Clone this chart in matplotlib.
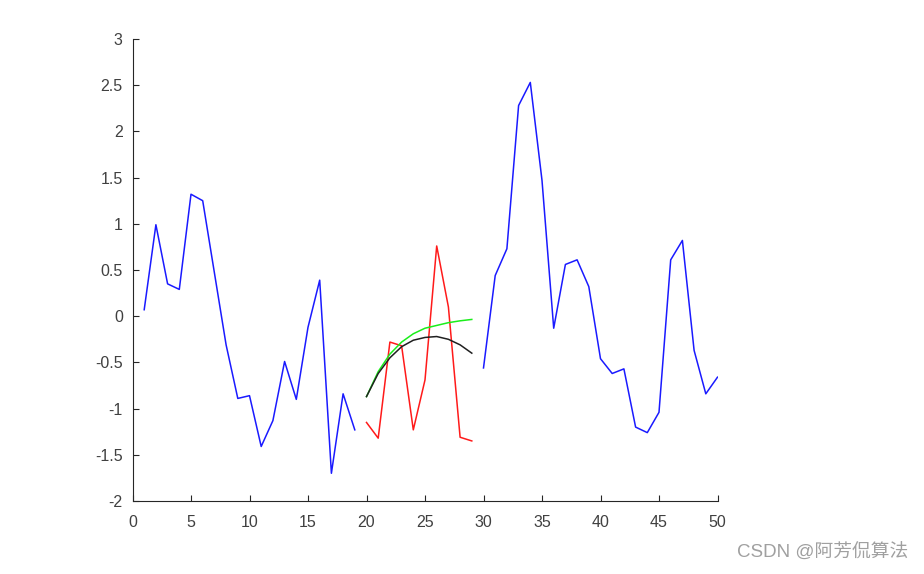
import numpy as np
import matplotlib
matplotlib.use("Agg")
import matplotlib.pyplot as plt

# ==========================================================
# Data
# ==========================================================

x_blue1 = list(range(1, 20))
y_blue1 = [0.07, 0.99, 0.35, 0.29, 1.32, 1.25, 0.47, -0.31, -0.89, -0.86,
           -1.41, -1.13, -0.49, -0.90, -0.12, 0.39, -1.70, -0.84, -1.23]

x_red = list(range(20, 30))
y_red = [-1.15, -1.32, -0.28, -0.32, -1.23, -0.69, 0.76, 0.10, -1.31, -1.35]

x_fit = list(range(20, 30))
y_green = [-0.87, -0.60, -0.41, -0.28, -0.19, -0.13, -0.10, -0.07, -0.05, -0.035]
y_black = [-0.87, -0.62, -0.45, -0.33, -0.26, -0.23, -0.22, -0.25, -0.31, -0.40]

x_blue2 = list(range(30, 51))
y_blue2 = [-0.56, 0.44, 0.73, 2.28, 2.53, 1.47, -0.13, 0.56, 0.61, 0.32,
           -0.46, -0.62, -0.57, -1.20, -1.26, -1.04, 0.61, 0.82, -0.37, -0.84,
           -0.66]

x_ticks = list(range(0, 51, 5))
y_ticks = [-2, -1.5, -1, -0.5, 0, 0.5, 1, 1.5, 2, 2.5, 3]
y_tick_labels = ["-2", "-1.5", "-1", "-0.5", "0", "0.5", "1", "1.5", "2", "2.5", "3"]

watermark = "CSDN @阿芳侃算法"

# ==========================================================
# Figure
# ==========================================================

plt.rcParams['font.family'] = ['Liberation Sans', 'Noto Sans CJK SC', 'DejaVu Sans']

fig = plt.figure(figsize=(9.24, 5.74), dpi=100)
ax = fig.add_axes([132.5 / 924, 1 - 501 / 574, (717.5 - 132.5) / 924, (501 - 39) / 574])

lw = 1.1
ax.plot(x_blue1, y_blue1, color="#1a1aff", lw=lw)
ax.plot(x_red, y_red, color="#ff1a1a", lw=lw)
ax.plot(x_fit, y_green, color="#1aee1a", lw=lw)
ax.plot(x_fit, y_black, color="#202020", lw=lw)
ax.plot(x_blue2, y_blue2, color="#1a1aff", lw=lw)

ax.set_xlim(0, 50)
ax.set_ylim(-2, 3)
ax.set_xticks(x_ticks)
ax.set_yticks(y_ticks)
ax.set_yticklabels(y_tick_labels)

for side in ["top", "right"]:
    ax.spines[side].set_visible(False)
for side in ["left", "bottom"]:
    ax.spines[side].set_color("#262626")
    ax.spines[side].set_linewidth(0.8)

ax.tick_params(axis="both", direction="in", length=4, width=0.8,
               colors="#262626", labelcolor="#404040", labelsize=11.5)
ax.tick_params(axis="x", pad=10)
ax.tick_params(axis="y", pad=7)

fig.text(908 / 924, 1 - 553 / 574, watermark, ha="right", va="center",
         fontsize=13.5, color="#a0a0a0")

plt.savefig("out.png", dpi=100)
